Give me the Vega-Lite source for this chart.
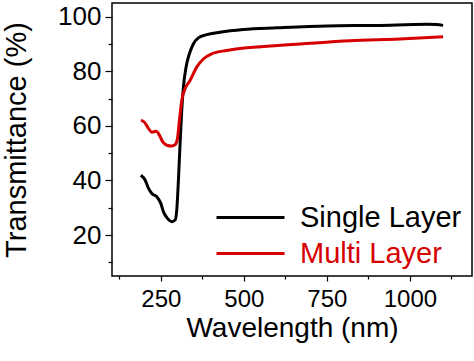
{
  "$schema": "https://vega.github.io/schema/vega-lite/v6.json",
  "width": 360,
  "height": 273,
  "autosize": "none",
  "padding": {"left": 112, "top": 3, "right": 2, "bottom": 85},
  "background": "white",
  "config": {
    "font": "Liberation Sans",
    "view": {"stroke": "black", "strokeWidth": 1.5},
    "axis": {"grid": false, "domain": false, "tickColor": "black", "tickWidth": 1.2, "labelColor": "black", "titleColor": "black", "labelFont": "Liberation Sans", "titleFont": "Liberation Sans", "titleFontWeight": "normal"}
  },
  "data": {
    "values": [
      {"wl": 190, "t": 41.9, "s": "Single Layer"},
      {"wl": 203, "t": 40.1, "s": "Single Layer"},
      {"wl": 213, "t": 37.1, "s": "Single Layer"},
      {"wl": 223, "t": 35.2, "s": "Single Layer"},
      {"wl": 238, "t": 34.0, "s": "Single Layer"},
      {"wl": 250, "t": 31.6, "s": "Single Layer"},
      {"wl": 258, "t": 28.5, "s": "Single Layer"},
      {"wl": 270, "t": 26.1, "s": "Single Layer"},
      {"wl": 283, "t": 24.9, "s": "Single Layer"},
      {"wl": 293, "t": 25.5, "s": "Single Layer"},
      {"wl": 298, "t": 29.1, "s": "Single Layer"},
      {"wl": 303, "t": 40.1, "s": "Single Layer"},
      {"wl": 308, "t": 53.5, "s": "Single Layer"},
      {"wl": 313, "t": 65.7, "s": "Single Layer"},
      {"wl": 318, "t": 74.2, "s": "Single Layer"},
      {"wl": 326, "t": 81.5, "s": "Single Layer"},
      {"wl": 336, "t": 86.4, "s": "Single Layer"},
      {"wl": 348, "t": 90.0, "s": "Single Layer"},
      {"wl": 363, "t": 92.2, "s": "Single Layer"},
      {"wl": 388, "t": 93.4, "s": "Single Layer"},
      {"wl": 428, "t": 94.3, "s": "Single Layer"},
      {"wl": 498, "t": 95.3, "s": "Single Layer"},
      {"wl": 600, "t": 95.9, "s": "Single Layer"},
      {"wl": 750, "t": 96.6, "s": "Single Layer"},
      {"wl": 900, "t": 96.8, "s": "Single Layer"},
      {"wl": 1050, "t": 97.2, "s": "Single Layer"},
      {"wl": 1080, "t": 97.1, "s": "Single Layer"},
      {"wl": 1100, "t": 96.8, "s": "Single Layer"},
      {"wl": 190, "t": 62.0, "s": "Multi Layer"},
      {"wl": 200, "t": 61.4, "s": "Multi Layer"},
      {"wl": 213, "t": 59.0, "s": "Multi Layer"},
      {"wl": 223, "t": 57.7, "s": "Multi Layer"},
      {"wl": 236, "t": 58.0, "s": "Multi Layer"},
      {"wl": 246, "t": 56.5, "s": "Multi Layer"},
      {"wl": 256, "t": 54.1, "s": "Multi Layer"},
      {"wl": 268, "t": 52.9, "s": "Multi Layer"},
      {"wl": 283, "t": 52.6, "s": "Multi Layer"},
      {"wl": 293, "t": 53.1, "s": "Multi Layer"},
      {"wl": 300, "t": 55.3, "s": "Multi Layer"},
      {"wl": 306, "t": 62.0, "s": "Multi Layer"},
      {"wl": 313, "t": 69.3, "s": "Multi Layer"},
      {"wl": 323, "t": 73.6, "s": "Multi Layer"},
      {"wl": 338, "t": 76.6, "s": "Multi Layer"},
      {"wl": 358, "t": 81.5, "s": "Multi Layer"},
      {"wl": 378, "t": 84.5, "s": "Multi Layer"},
      {"wl": 403, "t": 86.4, "s": "Multi Layer"},
      {"wl": 448, "t": 87.6, "s": "Multi Layer"},
      {"wl": 508, "t": 88.6, "s": "Multi Layer"},
      {"wl": 550, "t": 89.0, "s": "Multi Layer"},
      {"wl": 670, "t": 90.0, "s": "Multi Layer"},
      {"wl": 820, "t": 91.2, "s": "Multi Layer"},
      {"wl": 970, "t": 91.8, "s": "Multi Layer"},
      {"wl": 1100, "t": 92.6, "s": "Multi Layer"}
    ]
  },
  "mark": {"type": "line", "strokeWidth": 3, "interpolate": "monotone"},
  "encoding": {
    "x": {
      "field": "wl", "type": "quantitative",
      "scale": {"domain": [103, 1187], "nice": false, "zero": false},
      "axis": {
        "title": "Wavelength (nm)", "titleFontSize": 28, "titlePadding": 3,
        "values": [125, 250, 375, 500, 625, 750, 875, 1000, 1125],
        "format": "d",
        "labelExpr": "datum.value % 250 === 0 ? datum.label : ''",
        "labelFontSize": 24, "labelPadding": 6, "labelFlush": false,
        "tickSize": {"condition": {"test": "datum.value % 250 === 0", "value": 5}, "value": 3}
      }
    },
    "y": {
      "field": "t", "type": "quantitative",
      "scale": {"domain": [5, 105], "nice": false, "zero": false},
      "axis": {
        "title": "Transmittance (%)", "titleFontSize": 29, "titlePadding": 26,
        "values": [10, 20, 30, 40, 50, 60, 70, 80, 90, 100],
        "labelExpr": "datum.value % 20 === 0 ? datum.label : ''",
        "labelFontSize": 26, "labelPadding": 4, "labelFlush": false,
        "tickSize": {"condition": {"test": "datum.value % 20 === 0", "value": 7}, "value": 4}
      }
    },
    "color": {
      "field": "s", "type": "nominal",
      "scale": {"domain": ["Single Layer", "Multi Layer"], "range": ["#000000", "#d70000"]},
      "legend": {
        "title": null, "orient": "none", "legendX": 124, "legendY": 200,
        "symbolType": "M-3.4,0H3.4", "symbolSize": 400, "symbolStrokeWidth": 3,
        "labelFontSize": 29, "labelOffset": 35, "rowPadding": 6, "padding": 0,
        "labelLimit": 400,
        "labelFont": "Liberation Sans",
        "encode": {"labels": {"update": {"fill": {"signal": "datum.label === 'Multi Layer' ? '#d70000' : '#000000'"}}}}
      }
    }
  }
}
